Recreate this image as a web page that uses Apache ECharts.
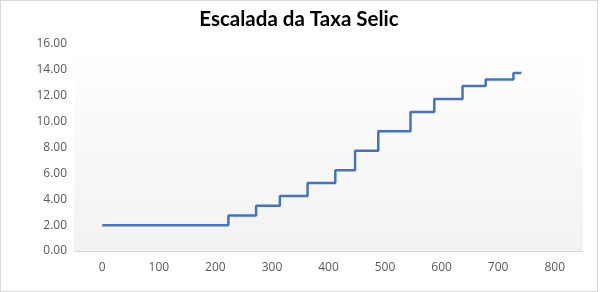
<!DOCTYPE html>
<html>
<head>
<meta charset="utf-8">
<script src="https://cdn.jsdelivr.net/npm/echarts@6/dist/echarts.min.js"></script>
<style>
html,body{margin:0;padding:0;background:#fff;}
#c{width:598px;height:292px;box-sizing:border-box;border:1px solid #d9d9d9;}
</style>
</head>
<body>
<div id="c"></div>
<script>
// Day index at which each Selic rate became effective
const stepDays = [0, 223, 272, 314, 363, 412, 447, 488, 545, 587, 637, 678, 727];
const rates = [2.00, 2.75, 3.50, 4.25, 5.25, 6.25, 7.75, 9.25, 10.75, 11.75, 12.75, 13.25, 13.75];
const lastDay = 741;
const xTicks = [0, 100, 200, 300, 400, 500, 600, 700, 800];
const yTicks = [0, 2, 4, 6, 8, 10, 12, 14, 16];

const points = stepDays.map((d, i) => [d, rates[i]]);
points.push([lastDay, rates[rates.length - 1]]);

const chart = echarts.init(document.getElementById('c'), null, {renderer: 'canvas'});
chart.setOption({
  animation: false,
  title: {
    text: 'Escalada da Taxa Selic',
    left: 'center',
    top: 3,
    textStyle: {fontFamily: 'Lato', fontWeight: 'bold', fontSize: 20.5, color: '#000'}
  },
  grid: {
    left: 73, right: 14, top: 43, bottom: 40,
    show: true,
    borderWidth: 0,
    backgroundColor: new echarts.graphic.LinearGradient(0, 0, 0, 1, [
      {offset: 0, color: '#ffffff'},
      {offset: 1, color: '#f2f2f2'}
    ])
  },
  xAxis: {
    type: 'value',
    min: -50, max: 850, interval: 50,
    axisLine: {show: true, lineStyle: {color: '#d9d9d9', width: 1}},
    axisTick: {show: false},
    splitLine: {show: false},
    axisLabel: {
      color: '#595959', fontFamily: 'Open Sans', fontSize: 12, margin: 11,
      showMinLabel: true, showMaxLabel: true,
      formatter: v => xTicks.indexOf(v) >= 0 ? String(v) : ''
    }
  },
  yAxis: {
    type: 'value',
    min: 0, max: 16, interval: 2,
    axisLine: {show: false},
    axisTick: {show: false},
    splitLine: {show: false},
    axisLabel: {
      color: '#595959', fontFamily: 'Open Sans', fontSize: 12, margin: 7,
      formatter: v => yTicks.indexOf(v) >= 0 ? v.toFixed(2) : ''
    }
  },
  series: [{
    type: 'line',
    step: 'end',
    data: points,
    showSymbol: false,
    lineStyle: {color: '#4472C4', width: 2.5}
  }]
});
</script>
</body>
</html>
